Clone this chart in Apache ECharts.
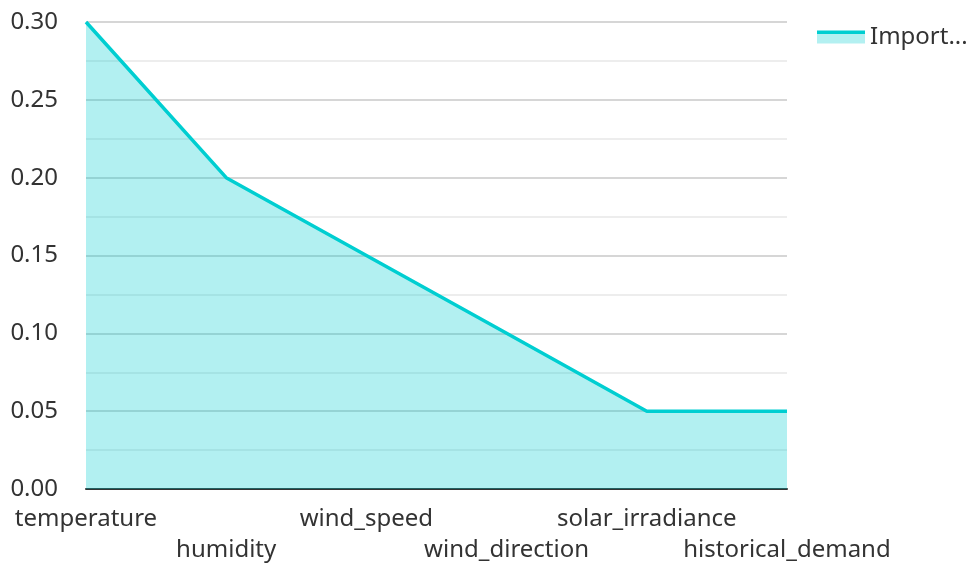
<!DOCTYPE html>
<html>
<head>
<meta charset="utf-8">
<script src="https://cdn.jsdelivr.net/npm/echarts@6/dist/echarts.min.js"></script>
<style>html,body{margin:0;padding:0;background:#fff}#c{width:973px;height:563px}</style>
</head>
<body>
<div id="c"></div>
<script>
const categories = ['temperature', 'humidity', 'wind_speed', 'wind_direction', 'solar_irradiance', 'historical_demand'];
const importance = [0.30, 0.20, 0.15, 0.10, 0.05, 0.05];
const seriesName = 'Importance';

const chart = echarts.init(document.getElementById('c'));
const FONT = 'Noto Sans';
chart.setOption({
  animation: false,
  textStyle: { fontFamily: FONT },
  grid: { left: 86, right: 186, top: 22, bottom: 74, containLabel: false, outerBoundsMode: 'none' },
  legend: {
    left: 812, top: 20,
    icon: 'rect',
    itemWidth: 48, itemHeight: 13, itemGap: 10,
    data: [{
      name: seriesName,
      itemStyle: {
        color: { type: 'linear', x: 0, y: 0, x2: 0, y2: 1, colorStops: [
          { offset: 0, color: '#00CED1' }, { offset: 0.3, color: '#00CED1' },
          { offset: 0.3, color: '#b3f0f1' }, { offset: 1, color: '#b3f0f1' }] }
      }
    }],
    textStyle: { fontFamily: FONT, fontSize: 24, color: '#333', width: 104, overflow: 'truncate', ellipsis: '...' }
  },
  xAxis: {
    type: 'category',
    data: categories,
    boundaryGap: false,
    axisLine: { lineStyle: { color: '#333', width: 2 } },
    axisTick: { show: false },
    axisLabel: {
      interval: 0, margin: 15, fontSize: 24, color: '#333', fontFamily: FONT, lineHeight: 31,
      formatter: (v, i) => (i % 2 === 1 ? '\n' + v : v)
    },
    splitLine: { show: false }
  },
  yAxis: {
    type: 'value',
    min: 0, max: 0.3, interval: 0.05,
    axisLine: { show: false },
    axisTick: { show: false },
    axisLabel: { margin: 28, fontSize: 24, color: '#333', fontFamily: FONT, formatter: v => v.toFixed(2) },
    splitLine: { lineStyle: { color: '#c8c8c8', width: 1.5 } },
    minorTick: { show: false, splitNumber: 2 },
    minorSplitLine: { show: true, lineStyle: { color: '#e8e8e8', width: 1.5 } }
  },
  series: [{
    name: seriesName,
    type: 'line',
    data: importance,
    symbol: 'none',
    lineStyle: { color: '#00CED1', width: 3.5 },
    itemStyle: { color: '#00CED1' },
    areaStyle: { color: '#00CED1', opacity: 0.3 }
  }]
});
</script>
</body>
</html>
